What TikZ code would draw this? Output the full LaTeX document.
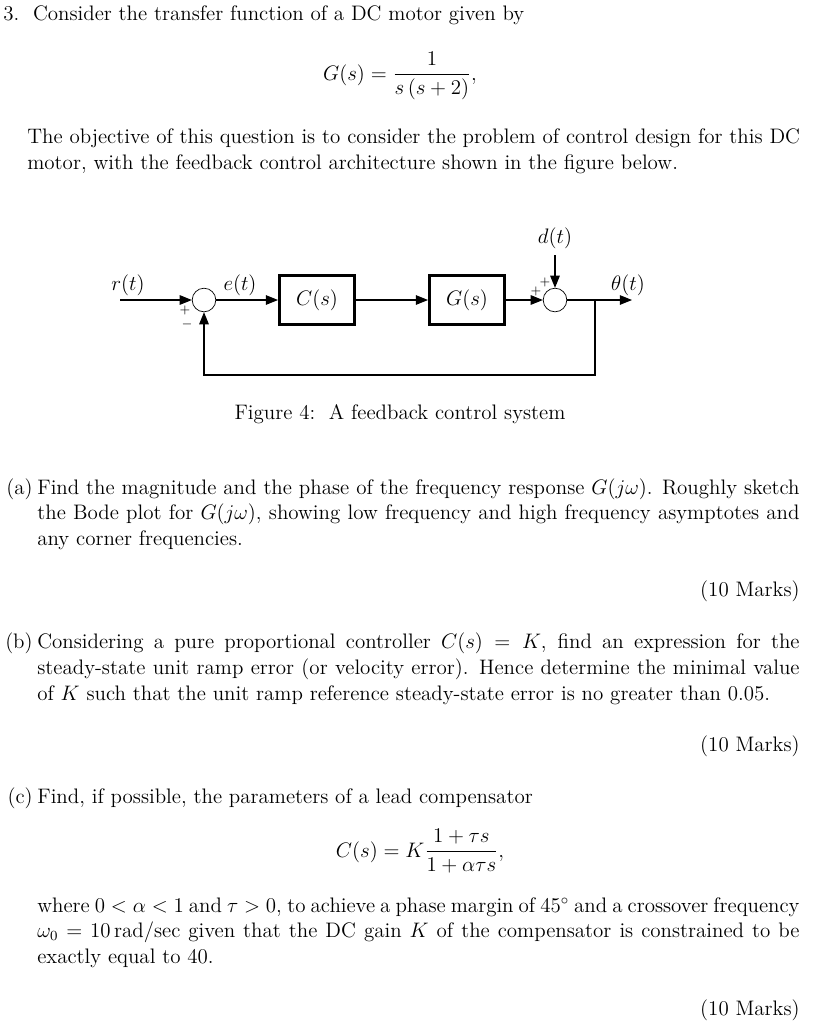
\documentclass[tikz,border=0pt]{standalone}
\usetikzlibrary{arrows.meta}
\begin{document}
\begin{tikzpicture}[x=0.572pt,y=-0.572pt,font=\fontsize{12}{14.5}\selectfont,
  txt/.style={anchor=base west,inner sep=0pt},
  txr/.style={anchor=base east,inner sep=0pt},
  txc/.style={anchor=base,inner sep=0pt},
  blk/.style={draw,line width=1.6pt,minimum width=43pt,minimum height=28pt,inner sep=0pt},
  sumc/.style={draw,circle,minimum size=13.5pt,inner sep=0pt},
  sig/.style={-{Triangle[length=7pt,width=5.5pt]},line width=0.6pt},
  sg/.style={font=\fontsize{7}{8}\selectfont,inner sep=0pt}]
\useasboundingbox (0,0) rectangle (815,1024);
\fill[white] (0,0) rectangle (815,1024);
\def\wa{\hbox to 442pt}
\def\wb{\hbox to 436pt}
\node[txt] (l1) at (3,20) {3.\ \ Consider the transfer function of a DC motor given by};
\node[txc] (eq1) at (400,80) {$\displaystyle G(s)=\frac{1}{s\,(s+2)},$};
\node[txt] (p1) at (27,143) {\wa{The objective of this question is to consider the problem of control design for this DC}};
\node[txt] (p2) at (27,169) {motor, with the feedback control architecture shown in the figure below.};
% diagram
\node[sumc] (s1) at (204,300) {};
\node[blk] (C) at (317,300) {$C(s)$};
\node[blk] (G) at (467,300) {$G(s)$};
\node[sumc] (s2) at (555,300) {};
\coordinate (rin) at (120,300);
\coordinate (br) at (595,300);
\coordinate (out) at (632,300);
\coordinate (fb1) at (595,375);
\coordinate (fb2) at (204,375);
\coordinate (din) at (555,255);
\draw[sig] (rin) -- (s1.west);
\draw[sig] (s1.east) -- (C.west);
\draw[sig] (C.east) -- (G.west);
\draw[sig] (G.east) -- (s2.west);
\draw[sig] (s2.east) -- (out);
\draw[sig] (br) -- (fb1) -- (fb2) -- (s1.south);
\draw[sig] (din) -- (s2.north);
\node[txc] (rl) at (128,290) {$r(t)$};
\node[txc] (el) at (240,290) {$e(t)$};
\node[txc] (dl) at (555,243) {$d(t)$};
\node[txc] (tl) at (628,290) {$\theta(t)$};
\node[sg] (p1s) at (185,310) {$+$};
\node[sg] (m1s) at (187,324) {$-$};
\node[sg] (p2s) at (536,291) {$+$};
\node[sg] (p3s) at (545,282) {$+$};
\node[txc] (cap) at (400,419) {Figure 4:\ \ A feedback control system};
% (a)
\node[txr] (a0) at (33,494) {(a)};
\node[txt] (a1) at (37,494) {\wb{Find the magnitude and the phase of the frequency response $G(j\omega)$. Roughly sketch}};
\node[txt] (a2) at (37,519) {\wb{the Bode plot for $G(j\omega)$, showing low frequency and high frequency asymptotes and}};
\node[txt] (a3) at (37,545) {any corner frequencies.};
\node[txr] (am) at (800,596) {(10 Marks)};
% (b)
\node[txr] (b0) at (33,648) {(b)};
\node[txt] (b1) at (37,648) {\wb{Considering a pure proportional controller $C(s)=K$, find an expression for the}};
\node[txt] (b2) at (37,674) {\wb{steady-state unit ramp error (or velocity error). Hence determine the minimal value}};
\node[txt] (b3) at (37,700) {of $K$ such that the unit ramp reference steady-state error is no greater than 0.05.};
\node[txr] (bm) at (800,751) {(10 Marks)};
% (c)
\node[txr] (c0) at (33,803) {(c)};
\node[txt] (c1) at (37,803) {Find, if possible, the parameters of a lead compensator};
\node[txc] (eq2) at (420,857) {$\displaystyle C(s)=K\frac{1+\tau s}{1+\alpha\tau s},$};
\node[txt] (c2) at (37,912) {\wb{where $0<\alpha<1$ and $\tau>0$, to achieve a phase margin of $45^\circ$ and a crossover frequency}};
\node[txt] (c3) at (37,937) {\wb{$\omega_0=10\,$rad/sec given that the DC gain $K$ of the compensator is constrained to be}};
\node[txt] (c4) at (37,963) {exactly equal to 40.};
\node[txr] (cm) at (800,1015) {(10 Marks)};
\end{tikzpicture}
\end{document}
